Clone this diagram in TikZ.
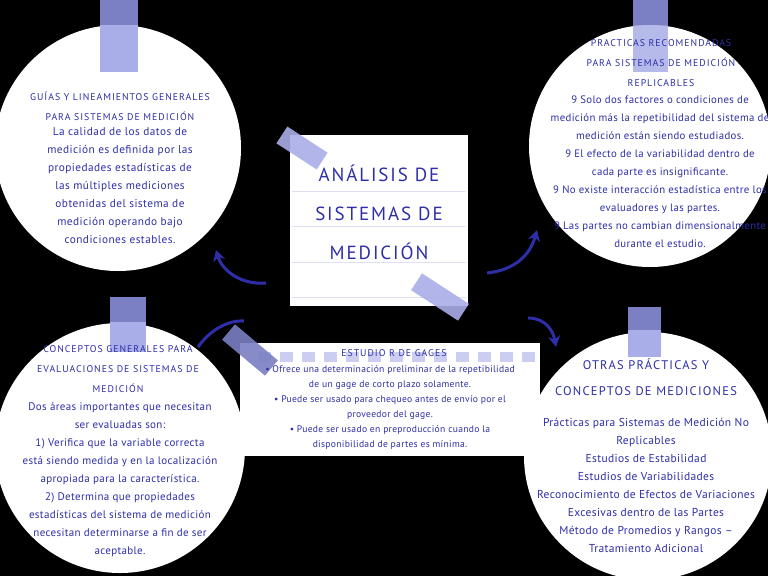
\documentclass[tikz,border=0pt]{standalone}
\usepackage{fontspec}
\usetikzlibrary{arrows.meta}
\setmainfont{PT Sans}
\definecolor{ink}{HTML}{2E2FA8}
\definecolor{tape}{HTML}{A9AEE8}
\definecolor{tapedark}{HTML}{7B80C4}
\definecolor{rule}{HTML}{DDE0F5}
\begin{document}
\begin{tikzpicture}[x=1pt,y=-1pt,
  txt/.style={text=ink,align=center,font=\fontsize{11.3}{18}\selectfont\addfontfeature{LetterSpace=4}},
  head/.style={text=ink,align=center,font=\fontsize{9.8}{20}\selectfont\addfontfeature{LetterSpace=10}},
  arr/.style={draw=ink,line width=3pt,-{Stealth[length=11pt,width=12pt]}}]
\useasboundingbox[fill=black] (0,0) rectangle (768,576);
% circles
\fill[white] (118,148) circle (123);
\fill[white] (650,146) circle (121);
\fill[white] (120,448) circle (125);
\fill[white] (648,456) circle (124);
% center paper and box
\fill[white] (290,135) rectangle (468,306);
\fill[white] (240,343) rectangle (540,456);
\foreach \yy in {191,226,262,297} \draw[rule] (292,\yy) -- (466,\yy);
\foreach \xx in {258,280,...,530} \fill[tape!60] (\xx,352) rectangle +(13,10);
% tapes
\fill[tapedark] (100,0) rectangle (138,25);
\fill[tape] (100,25) rectangle (138,72);
\fill[tapedark] (633,0) rectangle (668,25);
\fill[tape,opacity=0.85] (633,25) rectangle (668,72);
\fill[tapedark] (110,297) rectangle (146,322);
\fill[tape] (110,322) rectangle (146,352);
\fill[tapedark] (628,307) rectangle (661,330);
\fill[tape] (628,330) rectangle (661,357);
\fill[tape,opacity=0.9,rotate around={-33:(302,148)}] (278,138) rectangle (326,158);
\fill[tape,opacity=0.9,rotate around={-33:(440,297)}] (412,287) rectangle (468,307);
\fill[tapedark,opacity=0.9,rotate around={-40:(250,350)}] (222,340) rectangle (278,360);
% texts
\node[head] (h1) at (120,106) {GUÍAS Y LINEAMIENTOS GENERALES\\PARA SISTEMAS DE MEDICIÓN};
\node[txt,anchor=north] (t1) at (120,124) {La calidad de los datos de\\medición es definida por las\\propiedades estadísticas de\\las múltiples mediciones\\obtenidas del sistema de\\medición operando bajo\\condiciones estables.};
\node[head] (h2) at (661,63) {PRACTICAS RECOMENDADAS\\PARA SISTEMAS DE MEDICIÓN\\REPLICABLES};
\node[txt,anchor=north,font=\fontsize{10.8}{18}\selectfont\addfontfeature{LetterSpace=3}] (t2) at (660,92) {9 Solo dos factores o condiciones de\\medición más la repetibilidad del sistema de\\medición están siendo estudiados.\\9 El efecto de la variabilidad dentro de\\cada parte es insignificante.\\9 No existe interacción estadística entre los\\evaluadores y las partes.\\9 Las partes no cambian dimensionalmente\\durante el estudio.};
\node[text=ink,align=center,font=\fontsize{19}{39}\selectfont\addfontfeature{LetterSpace=10}] (c) at (379,212) {ANÁLISIS DE\\SISTEMAS DE\\MEDICIÓN};
\node[head] (h3) at (118,369) {CONCEPTOS GENERALES PARA\\EVALUACIONES DE SISTEMAS DE\\MEDICIÓN};
\node[txt,anchor=north,font=\fontsize{11}{18}\selectfont\addfontfeature{LetterSpace=3}] (t3) at (120,399) {Dos áreas importantes que necesitan\\ser evaluadas son:\\1) Verifica que la variable correcta\\está siendo medida y en la localización\\apropiada para la característica.\\2) Determina que propiedades\\estadísticas del sistema de medición\\necesitan determinarse a fin de ser\\aceptable.};
\node[head] (h4) at (394,353) {ESTUDIO R DE GAGES};
\node[txt,anchor=north,font=\fontsize{9.6}{15}\selectfont\addfontfeature{LetterSpace=3}] (t4) at (390,362) {• Ofrece una determinación preliminar de la repetibilidad\\de un gage de corto plazo solamente.\\• Puede ser usado para chequeo antes de envío por el\\proveedor del gage.\\• Puede ser usado en preproducción cuando la\\disponibilidad de partes es mínima.};
\node[text=ink,align=center,font=\fontsize{12.5}{26}\selectfont\addfontfeature{LetterSpace=10}] (h5) at (646,377) {OTRAS PRÁCTICAS Y\\CONCEPTOS DE MEDICIONES};
\node[txt,anchor=north,font=\fontsize{11.5}{18}\selectfont\addfontfeature{LetterSpace=3}] (t5) at (646,415) {Prácticas para Sistemas de Medición No\\Replicables\\Estudios de Estabilidad\\Estudios de Variabilidades\\Reconocimiento de Efectos de Variaciones\\Excesivas dentro de las Partes\\Método de Promedios y Rangos –\\Tratamiento Adicional};
% arrows
\coordinate (a1s) at (266,283); \coordinate (a1e) at (216,250);
\draw[arr] (a1s) .. controls (240,285) and (222,270) .. (a1e);
\coordinate (a2s) at (487,273); \coordinate (a2e) at (537,230);
\draw[arr] (a2s) .. controls (515,270) and (530,255) .. (a2e);
\coordinate (a3s) at (198,347); \coordinate (a3e) at (244,321);
\draw[draw=ink,line width=3pt] (a3s) .. controls (210,330) and (228,320) .. (a3e);
\coordinate (a4s) at (528,318); \coordinate (a4e) at (556,347);
\draw[arr] (a4s) .. controls (545,318) and (553,330) .. (a4e);
\end{tikzpicture}
\end{document}
